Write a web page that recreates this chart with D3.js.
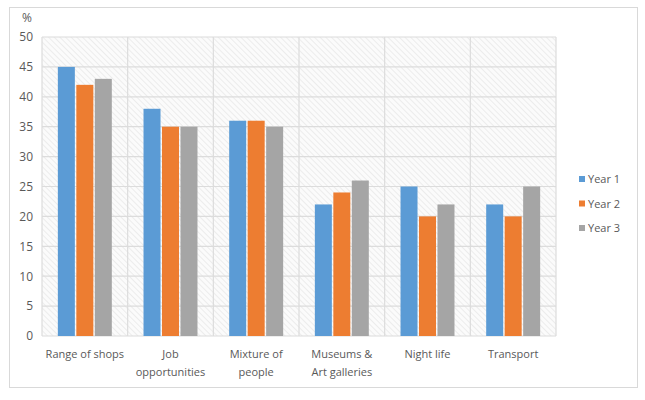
<!DOCTYPE html>
<html>
<head>
<meta charset="utf-8">
<script src="https://cdn.jsdelivr.net/npm/d3@7"></script>
<style>
  body { margin: 0; background: #fff; }
  text { font-family: "Open Sans", "DejaVu Sans", sans-serif; fill: #595959; }
</style>
</head>
<body>
<div id="chart"></div>
<script>
const categories = ["Range of shops", "Job opportunities", "Mixture of people", "Museums & Art galleries", "Night life", "Transport"];
const labelLines = [["Range of shops"], ["Job", "opportunities"], ["Mixture of", "people"], ["Museums &", "Art galleries"], ["Night life"], ["Transport"]];
const seriesNames = ["Year 1", "Year 2", "Year 3"];
const year1 = [45, 38, 36, 22, 25, 22];
const year2 = [42, 35, 36, 24, 20, 20];
const year3 = [43, 35, 35, 26, 22, 25];
const yTicks = [0, 5, 10, 15, 20, 25, 30, 35, 40, 45, 50];

const colors = ["#5b9bd5", "#ed7d31", "#a5a5a5"];
const seriesValues = [year1, year2, year3];

const width = 645;
const height = 400;
const margin = { top: 37, left: 42, right: 89, bottom: 64 };
const chartWidth = 556 - margin.left;
const chartHeight = 336 - margin.top;

const svg = d3.select("#chart")
  .append("svg")
  .attr("width", width)
  .attr("height", height);

// hatch pattern for the plot background (downward diagonal)
const defs = svg.append("defs");
const pattern = defs.append("pattern")
  .attr("id", "hatch")
  .attr("patternUnits", "userSpaceOnUse")
  .attr("width", 4)
  .attr("height", 4)
  .attr("patternTransform", "rotate(-45)");
pattern.append("rect").attr("width", 4).attr("height", 4).attr("fill", "#fbfbfb");
pattern.append("line")
  .attr("x1", 0).attr("y1", 0).attr("x2", 0).attr("y2", 4)
  .attr("stroke", "#e2e2e2")
  .attr("stroke-width", 1.2);

// outer chart border
svg.append("rect")
  .attr("x", 9.5)
  .attr("y", 7.5)
  .attr("width", 628)
  .attr("height", 380)
  .attr("fill", "#fff")
  .attr("stroke", "#d9d9d9");

const g = svg.append("g")
  .attr("transform", `translate(${margin.left},${margin.top})`);

const x = d3.scaleBand()
  .domain(categories)
  .range([0, chartWidth]);

const xs = d3.scaleBand()
  .domain(seriesNames)
  .range([x.bandwidth() * 0.185, x.bandwidth() * 0.815])
  .paddingInner(0.08);

const y = d3.scaleLinear()
  .domain([0, 50])
  .range([chartHeight, 0]);

g.append("rect")
  .attr("width", chartWidth)
  .attr("height", chartHeight)
  .attr("fill", "url(#hatch)");

// horizontal gridlines
g.append("g")
  .selectAll("line")
  .data(yTicks)
  .join("line")
  .attr("x1", 0)
  .attr("x2", chartWidth)
  .attr("y1", d => y(d))
  .attr("y2", d => y(d))
  .attr("stroke", "#dcdcdc")
  .attr("stroke-width", 1.2);

// vertical gridlines between categories
g.append("g")
  .selectAll("line")
  .data(categories.concat(["end"]))
  .join("line")
  .attr("x1", (d, i) => i * x.step())
  .attr("x2", (d, i) => i * x.step())
  .attr("y1", 0)
  .attr("y2", chartHeight)
  .attr("stroke", "#dcdcdc")
  .attr("stroke-width", 1.2);

// bars
const groups = g.append("g")
  .selectAll("g")
  .data(categories)
  .join("g")
  .attr("transform", d => `translate(${x(d)},0)`);

groups.selectAll("rect")
  .data((d, i) => seriesNames.map((s, j) => ({ series: s, value: seriesValues[j][i], color: colors[j] })))
  .join("rect")
  .attr("x", d => xs(d.series))
  .attr("y", d => y(d.value))
  .attr("width", xs.bandwidth())
  .attr("height", d => chartHeight - y(d.value))
  .attr("fill", d => d.color);

// y axis labels
const yAxis = g.append("g")
  .call(d3.axisLeft(y).tickValues(yTicks).tickSize(0).tickPadding(9));
yAxis.select(".domain").remove();
yAxis.selectAll("text")
  .style("font-size", "12px")
  .style("font-family", "\"Open Sans\", sans-serif")
  .attr("fill", "#595959");

svg.append("text")
  .attr("x", 22)
  .attr("y", 22)
  .style("font-size", "12px")
  .text("%");

// x axis labels
const xLabels = g.append("g")
  .attr("transform", `translate(0,${chartHeight})`)
  .selectAll("text")
  .data(categories)
  .join("text")
  .attr("x", d => x(d) + x.bandwidth() / 2)
  .attr("y", 22)
  .attr("text-anchor", "middle")
  .style("font-size", "11px");

xLabels.selectAll("tspan")
  .data((d, i) => labelLines[i])
  .join("tspan")
  .attr("x", function() { return d3.select(this.parentNode).attr("x"); })
  .attr("dy", (d, i) => i === 0 ? 0 : 18)
  .text(d => d);

// legend
const legend = svg.append("g")
  .attr("transform", "translate(579,180)");

const items = legend.selectAll("g")
  .data(seriesNames)
  .join("g")
  .attr("transform", (d, i) => `translate(0,${i * 24.5})`);

items.append("rect")
  .attr("x", 0)
  .attr("y", -4)
  .attr("width", 6)
  .attr("height", 6)
  .attr("fill", (d, i) => colors[i]);

items.append("text")
  .attr("x", 9)
  .attr("y", 3)
  .style("font-size", "11px")
  .text(d => d);
</script>
</body>
</html>
